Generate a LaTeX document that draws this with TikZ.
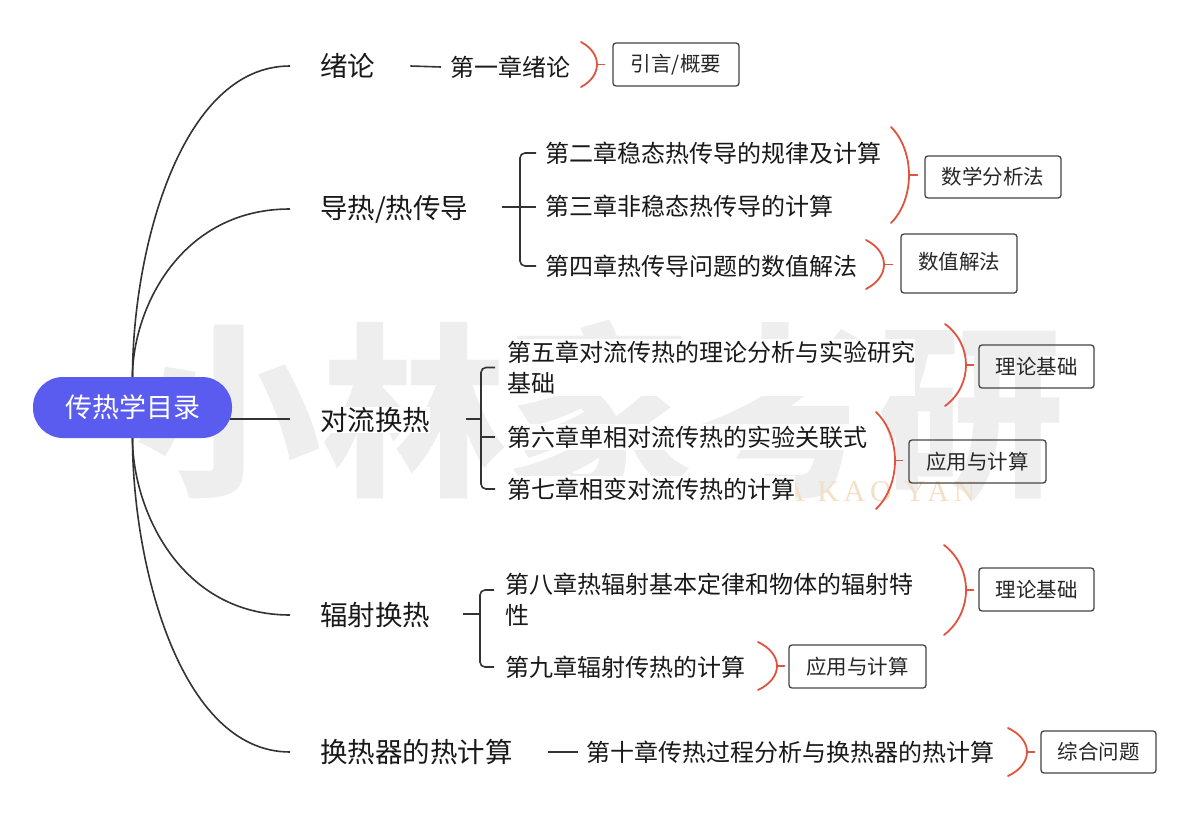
\documentclass[tikz,border=0pt]{standalone}
\usepackage{fontspec}
\setmainfont{Noto Sans CJK SC}
\newfontfamily\wmserif[LetterSpace=16]{Liberation Serif}
\usetikzlibrary{calc}
\definecolor{linec}{HTML}{333333}
\definecolor{redc}{HTML}{E0533F}
\definecolor{boxc}{HTML}{444444}
\definecolor{rootc}{HTML}{5A5CF0}
\definecolor{wmgray}{HTML}{EEEEEE}
\definecolor{wmtan}{HTML}{F3E0C6}
\tikzset{
  link/.style={draw=linec, line width=1.6pt},
  redb/.style={draw=redc, line width=1.8pt, line cap=round},
  tag/.style={draw=boxc, line width=1.3pt, rounded corners=3pt, text=black!85,
    font=\fontsize{20.5}{24}\selectfont, inner sep=0pt},
  chap/.style={anchor=west, font=\fontsize{24}{31}\selectfont, fill=white, text=black!90,
    inner xsep=0pt, inner ysep=2pt, align=left},
  topic/.style={anchor=west, font=\fontsize{27.5}{33}\selectfont, fill=white, text=black!90,
    inner sep=0pt},
  rootn/.style={fill=rootc, rounded corners=30pt, text=white, font=\fontsize{27}{32}\selectfont,
    minimum width=199pt, minimum height=61pt, inner sep=0pt}
}
% red bracket: #1 x0, #2 top, #3 bottom, #4 apex x, #5 tag node, #6 gap, #7 name
\newcommand\rbr[7]{%
  \draw[redb] (#1,#2) .. controls ({#1+1.333*(#4-#1)},{#2+0.25*(#3-#2)}) and ({#1+1.333*(#4-#1)},{#3-0.25*(#3-#2)}) .. (#1,#3);
  \coordinate (#7) at (#4,{(#2+#3)/2});
  \draw[redb] (#7) -- ([xshift=-#6pt]#7 -| #5.west);
}
\begin{document}
\begin{tikzpicture}[x=1pt,y=-1pt]
\useasboundingbox (0,0) rectangle (1192,816);
\fill[white] (0,0) rectangle (1192,816);
% watermark
\node[text=wmgray, font={\fontsize{186}{186}\selectfont\bfseries}] (wm) at (600,410) {小林家考研};
\node[text=wmtan, font={\wmserif\fontsize{30}{30}\selectfont}] (wm2) at (777,492) {XIAO LIN JIA KAO YAN};

% root and topics
\node[rootn] (root) at (132.5,407.5) {传热学目录};
\node[topic] (t1) at (320,66) {绪论};
\node[topic] (t2) at (320,209) {导热/热传导};
\node[topic] (t3) at (320,420) {对流换热};
\node[topic] (t4) at (320,615) {辐射换热};
\node[topic] (t5) at (320,752) {换热器的热计算};

% chapters
\node[chap] (c1) at (450,67) {第一章绪论};
\node[chap] (c2) at (545,153) {第二章稳态热传导的规律及计算};
\node[chap] (c3) at (545,206) {第三章非稳态热传导的计算};
\node[chap] (c4) at (545,266) {第四章热传导问题的数值解法};
\node[chap] (c5) at (507,367.5) {第五章对流传热的理论分析与实验研究\\基础};
\node[chap] (c6) at (507,437) {第六章单相对流传热的实验关联式};
\node[chap] (c7) at (507,489) {第七章相变对流传热的计算};
\node[chap] (c8) at (505,600) {第八章热辐射基本定律和物体的辐射特\\性};
\node[chap] (c9) at (505,667) {第九章辐射传热的计算};
\node[chap] (c10) at (586,752) {第十章传热过程分析与换热器的热计算};

% tags
\node[tag, minimum width=126pt, minimum height=43pt] (g1) at (676,64.5) {引言/概要};
\node[tag, minimum width=136pt, minimum height=42pt] (g2) at (993,177) {数学分析法};
\node[tag, minimum width=116pt, minimum height=59pt] (g3) at (959,263.5) {\raisebox{6pt}{数值解法}};
\node[tag, minimum width=115pt, minimum height=43pt] (g4) at (1036.5,366.5) {理论基础};
\node[tag, minimum width=137pt, minimum height=43pt] (g5) at (977.5,461.5) {应用与计算};
\node[tag, minimum width=115pt, minimum height=43pt] (g6) at (1036.5,589.5) {理论基础};
\node[tag, minimum width=137pt, minimum height=43pt] (g7) at (857.5,666.5) {应用与计算};
\node[tag, minimum width=115pt, minimum height=42pt] (g8) at (1098.5,752) {综合问题};

% root connectors
\coordinate (e1) at ([xshift=-30pt]t1.west);
\coordinate (e2) at ([xshift=-30pt]t2.west);
\coordinate (e3) at ([xshift=-30pt,yshift=1pt]t3.west);
\coordinate (e4) at ([xshift=-30pt]t4.west);
\coordinate (e5) at ([xshift=-30pt]t5.west);
\coordinate (r1) at (root.north |- e1);
\coordinate (r2) at (root.north |- e2);
\coordinate (r4) at (root.south |- e4);
\coordinate (r5) at (root.south |- e5);
\draw[link] (root.north) .. controls ($(root.north)!0.4!(r1)$) and ($(r1)!0.3!(e1)$) .. (e1);
\draw[link] (root.north) .. controls ($(root.north)!0.4!(r2)$) and ($(r2)!0.3!(e2)$) .. (e2);
\draw[link] (root.south) .. controls ($(root.south)!0.4!(r4)$) and ($(r4)!0.3!(e4)$) .. (e4);
\draw[link] (root.south) .. controls ($(root.south)!0.4!(r5)$) and ($(r5)!0.3!(e5)$) .. (e5);
\draw[link] ([xshift=-2pt]root.east |- e3) -- (e3);

% topic to chapter connectors
\draw[link] ([xshift=35pt]t1.east) -- ([xshift=-9pt]c1.west);
\draw[link] ([xshift=35pt]t5.east) -- ([xshift=-8pt]c10.west);

\coordinate (b2) at (520,207);
\draw[link] ([xshift=33pt]t2.east |- b2) -- ([xshift=-9pt]c3.west |- b2);
\draw[link, rounded corners=5pt] ([xshift=-9pt]c2.west) -- (b2 |- c2.west) -- (b2 |- c4.west) -- ([xshift=-9pt]c4.west);

\coordinate (b3) at (481,419);
\draw[link] ([xshift=36pt]t3.east |- b3) -- (b3);
\draw[link, rounded corners=5pt] ([xshift=-12pt]c5.west) -- (b3 |- c5.west) -- (b3 |- c7.west) -- ([xshift=-12pt]c7.west);
\draw[link] ([xshift=-12pt]c6.west) -- (b3 |- c6.west);

\coordinate (b4) at (480,614);
\coordinate (k8) at (494,590);
\draw[link] ([xshift=33pt]t4.east |- b4) -- (b4);
\draw[link, rounded corners=5pt] (k8) -- (b4 |- k8) -- (b4 |- c9.west) -- ([xshift=-11pt]c9.west);

% red brackets
\rbr{581}{42}{87}{597}{g1}{8}{a1}
\rbr{891}{127}{223}{909}{g2}{7}{a2}
\rbr{866}{240}{289}{884}{g3}{8}{a3}
\rbr{945}{324}{406}{966}{g4}{5}{a4}
\rbr{876}{412}{509}{895}{g5}{6}{a5}
\rbr{944}{545}{635}{966}{g6}{5}{a6}
\rbr{758}{642}{690}{777}{g7}{4}{a7}
\rbr{1008}{728}{776}{1027}{g8}{6}{a8}
\end{tikzpicture}
\end{document}
